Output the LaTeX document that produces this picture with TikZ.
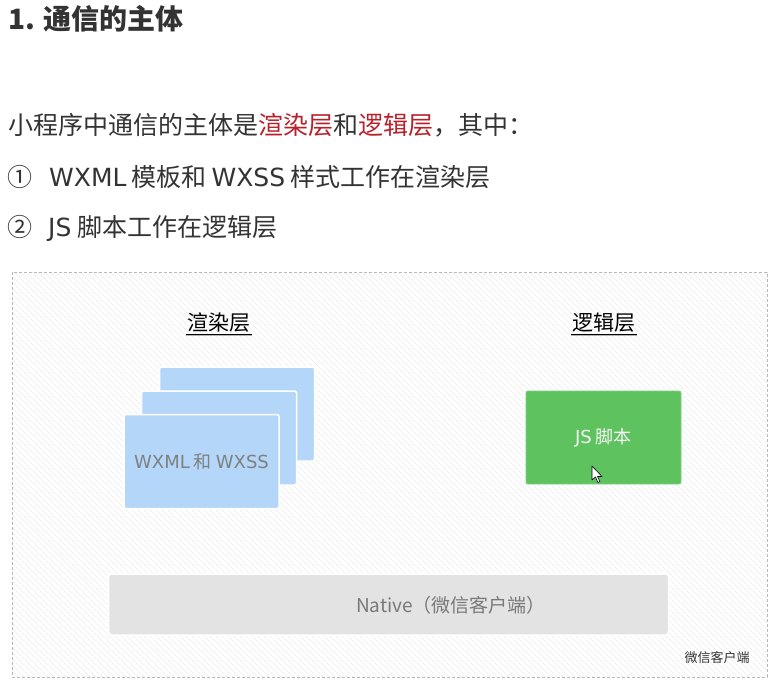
\documentclass[tikz,border=0pt]{standalone}
\usepackage{fontspec}
\setmainfont{Noto Sans CJK SC}
\newfontfamily\latfont{DejaVu Sans}
\newcommand{\lat}[1]{{\latfont #1}}
\usetikzlibrary{positioning,calc,patterns.meta}

\definecolor{textgray}{HTML}{333333}
\definecolor{hlred}{HTML}{B8202A}
\definecolor{wxblue}{HTML}{B3D6F9}
\definecolor{jsgreen}{HTML}{5EC35F}
\definecolor{nativegray}{HTML}{E3E3E3}
\definecolor{hatchgray}{HTML}{E4E4E4}

\begin{document}
\begin{tikzpicture}[x=1pt,y=-1pt]

  % --- 定義樣式 ---
  \tikzset{
    % 上方說明文字
    linebox/.style={
      anchor=west,
      inner sep=0pt,
      text=textgray,
      font=\fontsize{25}{29}\selectfont
    },
    titlebox/.style={
      linebox,
      font=\fontsize{28}{32}\selectfont\bfseries
    },
    % 外框:淺灰虛線
    frameline/.style={
      draw=gray!55,
      line width=0.8pt,
      dash pattern=on 3pt off 2pt
    },
    % 渲染層 / 邏輯層 標題
    layertitle/.style={
      text=black,
      font=\fontsize{21}{25}\selectfont,
      inner sep=1pt
    },
    % 藍色頁面方塊
    wxbox/.style={
      draw=white,
      line width=1.5pt,
      fill=wxblue,
      rounded corners=2pt,
      minimum width=155pt,
      minimum height=94pt,
      inner sep=0pt,
      text=gray,
      font=\fontsize{18}{22}\selectfont
    },
    % 綠色腳本方塊
    jsbox/.style={
      wxbox,
      fill=jsgreen,
      draw=jsgreen!80!white,
      line width=0.8pt,
      minimum height=93pt,
      text=white!92!gray
    },
    % 底部 Native 方塊
    nativebox/.style={
      draw=white,
      line width=1.5pt,
      fill=nativegray,
      rounded corners=3pt,
      minimum width=560pt,
      minimum height=61pt
    },
    nativelabel/.style={
      text=gray!95!black,
      font=\fontsize{19}{23}\selectfont,
      inner sep=0pt
    }
  }

  \useasboundingbox (0,0) rectangle (772,682);

  % --- 上方文字 ---
  \node[titlebox] (title) at (8,19) {1. 通信的主体};
  \node[linebox] (intro) at (8,125) {小程序中通信的主体是\textcolor{hlred}{渲染层}和\textcolor{hlred}{逻辑层}，其中：};
  \node[linebox] (item1) at (7,177) {①\hspace{17pt}\lat{WXML}\hspace{5pt}模板和\hspace{5pt}\lat{WXSS}\hspace{5pt}样式工作在渲染层};
  \node[linebox] (item2) at (7,228) {②\hspace{16pt}\lat{JS}\hspace{6pt}脚本工作在逻辑层};

  % --- 微信客戶端外框 ---
  \fill[pattern={Lines[angle=-45,distance=4pt,line width=0.6pt]}, pattern color=hatchgray]
    (12,272) rectangle (767,677);
  \draw[frameline] (12,272) rectangle (767,677);

  % 1. 層標題(帶底線)
  \node[layertitle] (xrtitle) at (219,323) {渲染层};
  \node[layertitle] (ljtitle) at (604,323) {逻辑层};
  \foreach \t in {xrtitle,ljtitle}{
    \draw[gray!60, line width=2pt] ($(\t.south west)+(0,1.5)$) -- ($(\t.south east)+(0,1.5)$);
    \draw[black, line width=0.8pt] (\t.south west) -- (\t.south east);
  }

  % 2. 渲染層:三張疊放的頁面
  \node[wxbox] (wxback) at (237,414) {};
  \node[wxbox] (wxmid) at ($(wxback)+(-18,24)$) {};
  \node[wxbox] (wxfront) at ($(wxmid)+(-17.5,23.5)$) {\lat{WXML} 和 \lat{WXSS}};

  % 3. 邏輯層
  \node[jsbox] (js) at (603.5,437.5) {\lat{JS} 脚本};
  % 滑鼠游標
  \filldraw[fill=white, draw=black, line width=0.6pt, line join=round]
    (592,466) -- ++(0,14) -- ++(3.5,-3) -- ++(2.5,5.5) -- ++(2,-1) -- ++(-2.5,-5) -- ++(4.5,0) -- cycle;

  % 4. Native
  \node[nativebox] (native) at (388.5,604.5) {};
  \node[nativelabel] (nativetext) at (451,605) {Native（微信客户端）};
  \node[font=\fontsize{13}{15}\selectfont, text=textgray, inner sep=0pt] (client) at (717,658) {微信客户端};

\end{tikzpicture}
\end{document}
